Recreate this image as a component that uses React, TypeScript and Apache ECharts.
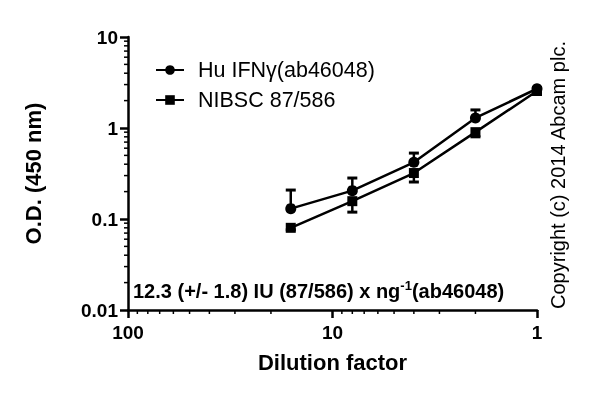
import React, { useEffect, useRef } from "react";
import * as echarts from "echarts";

const dilutions = [16, 8, 4, 2, 1];
const huIFNg = [0.13, 0.205, 0.42, 1.29, 2.7];
const huIFNgErrUp = [0.078, 0.077, 0.11, 0.29, 0];
const nibsc = [0.08, 0.157, 0.32, 0.9, 2.55];
const nibscErrDown = [0.004, 0.038, 0.065, 0.1, 0];
const yMinorTicks = [0.02, 0.03, 0.04, 0.05, 0.06, 0.07, 0.08, 0.09, 0.2, 0.3, 0.4, 0.5, 0.6, 0.7, 0.8, 0.9, 2, 3, 4, 5, 6, 7, 8, 9];
const xMinorTicks = [2, 3, 4, 5, 6, 7, 8, 9, 20, 30, 40, 50, 60, 70, 80, 90];
const seriesNames = ["Hu IFN\u03b3(ab46048)", "NIBSC 87/586"];

const FONT = "'Liberation Sans', Arial, sans-serif";

export default function App() {
  const ref = useRef<HTMLDivElement>(null);
  useEffect(() => {
    const chart = echarts.init(ref.current!, null, { renderer: "svg" });
    const errRender = (params: any, api: any) => {
      const x = api.value(0), y = api.value(1), e = api.value(2), dir = api.value(3);
      if (!e) return { type: "group", children: [] };
      const p0 = api.coord([x, y]);
      const p1 = api.coord([x, y + dir * e]);
      const half = 5;
      return {
        type: "group",
        children: [
          { type: "line", shape: { x1: p0[0], y1: p0[1], x2: p1[0], y2: p1[1] }, style: { stroke: "#000", lineWidth: 2.5 } },
          { type: "line", shape: { x1: p1[0] - half, y1: p1[1], x2: p1[0] + half, y2: p1[1] }, style: { stroke: "#000", lineWidth: 3 } },
        ],
      };
    };
    const yMinorRender = (params: any, api: any) => {
      const p = api.coord([api.value(0), api.value(1)]);
      return { type: "line", shape: { x1: p[0] - 4, y1: p[1], x2: p[0], y2: p[1] }, style: { stroke: "#000", lineWidth: 1.5 } };
    };
    const xMinorRender = (params: any, api: any) => {
      const p = api.coord([api.value(0), api.value(1)]);
      return { type: "line", shape: { x1: p[0], y1: p[1], x2: p[0], y2: p[1] + 4 }, style: { stroke: "#000", lineWidth: 1.5 } };
    };
    const fmt = (v: number) => String(parseFloat(Number(v).toPrecision(6)));
    chart.setOption({
      animation: false,
      grid: { left: 128, right: 63, top: 37, bottom: 84, containLabel: false },
      legend: {
        data: seriesNames,
        orient: "vertical",
        left: 150,
        top: 53,
        itemWidth: 28,
        itemHeight: 12,
        itemGap: 6,
        textStyle: { fontFamily: FONT, fontSize: 21.5, color: "#000", padding: [0, 0, 0, 9], lineHeight: 24 },
      },
      xAxis: {
        type: "log",
        logBase: 10,
        min: 1,
        max: 100,
        inverse: true,
        name: "Dilution factor",
        nameLocation: "middle",
        nameGap: 41,
        nameTextStyle: { fontFamily: FONT, fontSize: 22, fontWeight: "bold", color: "#000" },
        axisLine: { lineStyle: { color: "#000", width: 2.5 } },
        axisTick: { length: 8, lineStyle: { color: "#000", width: 2.5 } },
        axisLabel: { fontFamily: FONT, fontSize: 19, fontWeight: "bold", color: "#000", margin: 13, formatter: fmt },
        splitLine: { show: false },
      },
      yAxis: {
        type: "log",
        logBase: 10,
        min: 0.01,
        max: 10,
        name: "O.D. (450 nm)",
        nameLocation: "middle",
        nameGap: 84,
        nameTextStyle: { fontFamily: FONT, fontSize: 22, fontWeight: "bold", color: "#000" },
        axisLine: { lineStyle: { color: "#000", width: 2.5 } },
        axisTick: { length: 8, lineStyle: { color: "#000", width: 2.5 } },
        axisLabel: { fontFamily: FONT, fontSize: 19, fontWeight: "bold", color: "#000", margin: 10, formatter: fmt },
        splitLine: { show: false },
      },
      series: [
        {
          name: seriesNames[0],
          type: "line",
          data: dilutions.map((d, i) => [d, huIFNg[i]]),
          symbol: "circle",
          symbolSize: 11,
          lineStyle: { color: "#000", width: 2.5 },
          itemStyle: { color: "#000" },
          z: 3,
        },
        {
          name: seriesNames[1],
          type: "line",
          data: dilutions.map((d, i) => [d, nibsc[i]]),
          symbol: "rect",
          symbolSize: 10,
          lineStyle: { color: "#000", width: 2.5 },
          itemStyle: { color: "#000" },
          z: 3,
        },
        {
          type: "custom",
          renderItem: errRender,
          data: dilutions.map((d, i) => [d, huIFNg[i], huIFNgErrUp[i], 1]),
          z: 4,
        },
        {
          type: "custom",
          renderItem: errRender,
          data: dilutions.map((d, i) => [d, nibsc[i], nibscErrDown[i], -1]),
          z: 4,
        },
        {
          type: "custom",
          renderItem: yMinorRender,
          clip: false,
          data: yMinorTicks.map((v) => [100, v]),
          silent: true,
        },
        {
          type: "custom",
          renderItem: xMinorRender,
          clip: false,
          data: xMinorTicks.map((v) => [v, 0.01]),
          silent: true,
        },
      ],
      graphic: [
        {
          type: "text",
          left: 133,
          top: 279,
          style: {
            text: "{a|12.3 (+/- 1.8) IU (87/586) x ng}{s|-1}{a|(ab46048)}",
            rich: {
              a: { fontFamily: FONT, fontSize: 20, fontWeight: "bold", fill: "#000", verticalAlign: "bottom" },
              s: { fontFamily: FONT, fontSize: 13, fontWeight: "bold", fill: "#000", verticalAlign: "top", padding: [0, 0, 9, 0] },
            },
          },
        },
        {
          type: "text",
          x: 558,
          y: 175,
          rotation: Math.PI / 2,
          style: {
            text: "Copyright (c) 2014 Abcam plc.",
            fontFamily: FONT,
            fontSize: 20,
            fill: "#000",
            align: "center",
            verticalAlign: "middle",
          },
        },
      ],
    });
    return () => chart.dispose();
  }, []);
  return <div ref={ref} style={{ position: "fixed", left: 0, top: 0, width: 600, height: 394 }} />;
}
